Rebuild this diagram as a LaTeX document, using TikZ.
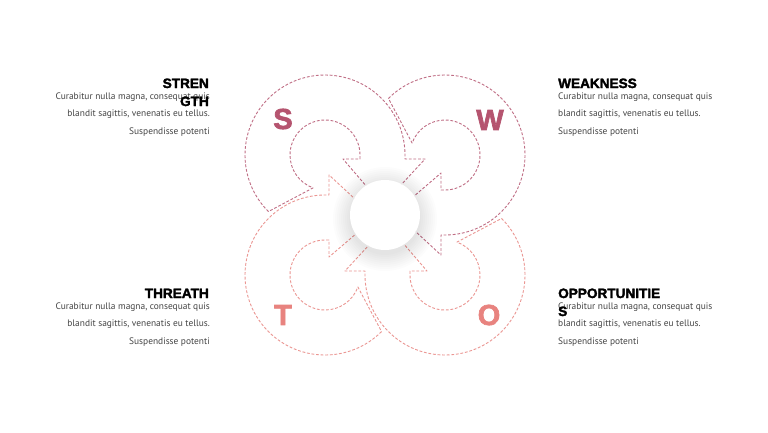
\documentclass[tikz,border=0pt]{standalone}
\usepackage{fontspec}
\setmainfont{Liberation Sans}
\newfontfamily\bodyfont{PT Sans}
\newfontfamily\headfont[FakeBold=2.2]{Liberation Sans Bold}
\definecolor{rose}{HTML}{B5546F}
\definecolor{coral}{HTML}{E8837F}
\definecolor{bodygrey}{HTML}{444444}
\newcommand\swotpath[1]{%
  \draw[#1] (135:80) arc[start angle=135,end angle=360,radius=80]
    -- (80,4) -- (100,4) -- (57.5,50) -- (18,4) -- (35,4) -- (35,0)
    arc[start angle=360,end angle=110,radius=35] -- cycle;}
\begin{document}
\begin{tikzpicture}[x=1pt,y=-1pt,
  arrowline/.style={dash pattern=on 2.8pt off 1.8pt, line width=0.9pt, line join=round},
  swline/.style={arrowline, draw=rose!85},
  toline/.style={arrowline, draw=coral!85},
  letter/.style={inner sep=0pt, font=\headfont\fontsize{29}{29}\selectfont},
  title/.style={inner sep=0pt, font=\headfont\fontsize{13.6}{14}\selectfont, text=black},
  body/.style={inner sep=0pt, font=\bodyfont\fontsize{9.4}{11}\selectfont, text=bodygrey}]
\useasboundingbox (0,0) rectangle (768,432);
\fill[white] (0,0) rectangle (768,432);
% arrows
\begin{scope}[shift={(325,275)},rotate=90]\swotpath{toline}\end{scope}
\begin{scope}[shift={(445,275)},rotate=180]\swotpath{toline}\end{scope}
\begin{scope}[shift={(325,155)}]\swotpath{swline}\end{scope}
\begin{scope}[shift={(445,155)},rotate=-90]\swotpath{swline}\end{scope}
% hub shadow and hub
\foreach \r in {36,38,...,52} \fill[black, opacity=0.01] (385,219) circle (\r);
\node[circle, fill=white, inner sep=0pt, minimum size=70pt] (hub) at (385,215) {};
% letters
\node[letter, text=rose] (S) at (283,119) {S};
\node[letter, text=rose] (W) at (490,120) {W};
\node[letter, text=coral] (T) at (283,315) {T};
\node[letter, text=coral] (O) at (489,315) {O};
% strength
\node[body, anchor=base east] (s1) at (210,99) {Curabitur nulla magna, consequat quis};
\node[body, anchor=base east] (s2) at (210,116.5) {blandit sagittis, venenatis eu tellus.};
\node[body, anchor=base east] (s3) at (210,134) {Suspendisse potenti};
\node[title, anchor=base east] (sh1) at (209,88) {STREN};
\node[title, anchor=base east] (sh2) at (209,106) {GTH};
% weakness
\node[body, anchor=base west] (w1) at (558,99) {Curabitur nulla magna, consequat quis};
\node[body, anchor=base west] (w2) at (558,116.5) {blandit sagittis, venenatis eu tellus.};
\node[body, anchor=base west] (w3) at (558,134) {Suspendisse potenti};
\node[title, anchor=base west] (wh1) at (558,88) {WEAKNESS};
% threat
\node[body, anchor=base east] (t1) at (210,309) {Curabitur nulla magna, consequat quis};
\node[body, anchor=base east] (t2) at (210,326.5) {blandit sagittis, venenatis eu tellus.};
\node[body, anchor=base east] (t3) at (210,344) {Suspendisse potenti};
\node[title, anchor=base east] (th1) at (209,298) {THREATH};
% opportunities
\node[body, anchor=base west] (o1) at (558,309) {Curabitur nulla magna, consequat quis};
\node[body, anchor=base west] (o2) at (558,326.5) {blandit sagittis, venenatis eu tellus.};
\node[body, anchor=base west] (o3) at (558,344) {Suspendisse potenti};
\node[title, anchor=base west] (oh1) at (558,298) {OPPORTUNITIE};
\node[title, anchor=base west] (oh2) at (558,316) {S};
\end{tikzpicture}
\end{document}
